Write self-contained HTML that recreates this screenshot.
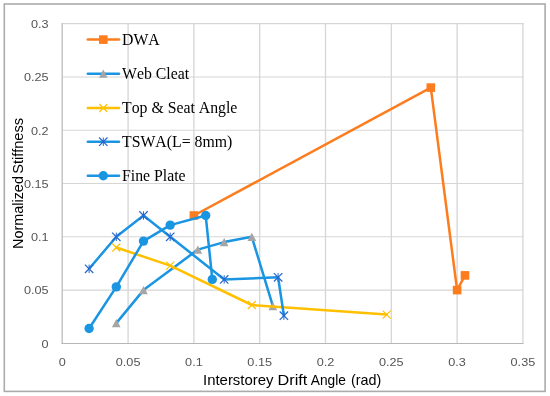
<!DOCTYPE html>
<html><head><meta charset="utf-8"><title>Chart</title>
<style>
html,body{margin:0;padding:0;background:#fff;}
body{width:550px;height:396px;overflow:hidden;}
svg{display:block;}
.ax{font-family:"Liberation Sans",sans-serif;font-size:11.8px;fill:#555;}
.ti{font-family:"Liberation Sans",sans-serif;font-size:14.2px;fill:#000;}
.lg{font-family:"Liberation Serif",serif;font-size:15.8px;fill:#000;font-kerning:none;}
</style></head><body>
<svg width="550" height="396" viewBox="0 0 550 396">
<rect x="0" y="0" width="550" height="396" fill="#fff"/>
<rect x="4.3" y="4.0" width="540.8" height="387.4" fill="#fff" stroke="#ababab" stroke-width="1.6"/>
<path d="M128.1 23.1V343.4M193.9 23.1V343.4M259.7 23.1V343.4M325.5 23.1V343.4M391.3 23.1V343.4M457.1 23.1V343.4M522.9 23.1V343.4" stroke="#d6d6d6" stroke-width="1.3" fill="none"/>
<path d="M62.3 290.1H523.5M62.3 236.8H523.5M62.3 183.5H523.5M62.3 130.2H523.5M62.3 76.9H523.5M62.3 23.6H523.5" stroke="#d6d6d6" stroke-width="1.05" fill="none"/>
<path d="M62.2 23.1V343.9" stroke="#bcbcbc" stroke-width="1.3" fill="none"/>
<path d="M61.6 343.4H523.5" stroke="#b6b6b6" stroke-width="1.05" fill="none"/>
<text class="ax" transform="translate(62.3 366) scale(1.075 1)" text-anchor="middle">0</text><text class="ax" transform="translate(128.1 366) scale(1.075 1)" text-anchor="middle">0.05</text><text class="ax" transform="translate(193.9 366) scale(1.075 1)" text-anchor="middle">0.1</text><text class="ax" transform="translate(259.7 366) scale(1.075 1)" text-anchor="middle">0.15</text><text class="ax" transform="translate(325.5 366) scale(1.075 1)" text-anchor="middle">0.2</text><text class="ax" transform="translate(391.3 366) scale(1.075 1)" text-anchor="middle">0.25</text><text class="ax" transform="translate(457.1 366) scale(1.075 1)" text-anchor="middle">0.3</text><text class="ax" transform="translate(522.9 366) scale(1.075 1)" text-anchor="middle">0.35</text>
<text class="ax" transform="translate(48.6 347.7) scale(1.075 1)" text-anchor="end">0</text><text class="ax" transform="translate(48.6 294.4) scale(1.075 1)" text-anchor="end">0.05</text><text class="ax" transform="translate(48.6 241.1) scale(1.075 1)" text-anchor="end">0.1</text><text class="ax" transform="translate(48.6 187.8) scale(1.075 1)" text-anchor="end">0.15</text><text class="ax" transform="translate(48.6 134.5) scale(1.075 1)" text-anchor="end">0.2</text><text class="ax" transform="translate(48.6 81.2) scale(1.075 1)" text-anchor="end">0.25</text><text class="ax" transform="translate(48.6 27.9) scale(1.075 1)" text-anchor="end">0.3</text>
<text class="ti" y="384.6"><tspan x="203.0" textLength="70.5" lengthAdjust="spacingAndGlyphs">Interstorey</tspan> <tspan x="277.5" textLength="29.8" lengthAdjust="spacingAndGlyphs">Drift</tspan> <tspan x="310.8" textLength="35.1" lengthAdjust="spacingAndGlyphs">Angle</tspan> <tspan x="350.9" textLength="30.3" lengthAdjust="spacingAndGlyphs">(rad)</tspan></text>
<text class="ti" transform="translate(22.7 0) rotate(-90)" y="0"><tspan x="-249.0" textLength="72.9" lengthAdjust="spacingAndGlyphs">Normalized</tspan> <tspan x="-173.7" textLength="55.8" lengthAdjust="spacingAndGlyphs">Stiffness</tspan></text>
<path d="M193.9 215.5L430.8 87.6L457.1 290.1L465.0 275.4" stroke="#FD7C1E" stroke-width="2.5" fill="none" stroke-linejoin="round" stroke-linecap="round"/>
<rect x="189.6" y="211.2" width="8.6" height="8.6" fill="#FD7C1E"/><rect x="426.5" y="83.3" width="8.6" height="8.6" fill="#FD7C1E"/><rect x="452.8" y="285.8" width="8.6" height="8.6" fill="#FD7C1E"/><rect x="460.7" y="271.1" width="8.6" height="8.6" fill="#FD7C1E"/>
<path d="M116.3 323.1L143.5 290.1L197.8 249.6L224.2 242.1L251.8 236.8L272.9 306.1" stroke="#1A95E2" stroke-width="2.5" fill="none" stroke-linejoin="round" stroke-linecap="round"/>
<path d="M116.3 319.0L120.6 327.2L111.9 327.2Z" fill="#A5A5A5"/><path d="M143.5 286.0L147.8 294.2L139.1 294.2Z" fill="#A5A5A5"/><path d="M197.8 245.5L202.2 253.7L193.5 253.7Z" fill="#A5A5A5"/><path d="M224.2 238.0L228.5 246.2L219.8 246.2Z" fill="#A5A5A5"/><path d="M251.8 232.7L256.2 240.9L247.5 240.9Z" fill="#A5A5A5"/><path d="M272.9 302.0L277.2 310.2L268.5 310.2Z" fill="#A5A5A5"/>
<path d="M116.3 247.5L170.2 265.6L251.8 305.0L386.7 314.6" stroke="#FFC000" stroke-width="2.5" fill="none" stroke-linejoin="round" stroke-linecap="round"/>
<path d="M112.3 243.5L120.3 251.5M112.3 251.5L120.3 243.5" stroke="#FFC000" stroke-width="1.2" fill="none"/><path d="M166.2 261.6L174.2 269.6M166.2 269.6L174.2 261.6" stroke="#FFC000" stroke-width="1.2" fill="none"/><path d="M247.8 301.0L255.8 309.0M247.8 309.0L255.8 301.0" stroke="#FFC000" stroke-width="1.2" fill="none"/><path d="M382.7 310.6L390.7 318.6M382.7 318.6L390.7 310.6" stroke="#FFC000" stroke-width="1.2" fill="none"/>
<path d="M89.1 268.8L116.3 236.8L143.5 215.5L170.2 236.8L224.2 279.4L278.1 277.3L283.9 315.7" stroke="#1A95E2" stroke-width="2.5" fill="none" stroke-linejoin="round" stroke-linecap="round"/>
<path d="M84.9 264.6L93.3 273.0M84.9 273.0L93.3 264.6" stroke="#2668D0" stroke-width="1.25" fill="none"/><path d="M89.1 264.6V273.0" stroke="#2668D0" stroke-width="1.0"/><path d="M112.1 232.6L120.5 241.0M112.1 241.0L120.5 232.6" stroke="#2668D0" stroke-width="1.25" fill="none"/><path d="M116.3 232.6V241.0" stroke="#2668D0" stroke-width="1.0"/><path d="M139.3 211.3L147.7 219.7M139.3 219.7L147.7 211.3" stroke="#2668D0" stroke-width="1.25" fill="none"/><path d="M143.5 211.3V219.7" stroke="#2668D0" stroke-width="1.0"/><path d="M166.0 232.6L174.4 241.0M166.0 241.0L174.4 232.6" stroke="#2668D0" stroke-width="1.25" fill="none"/><path d="M170.2 232.6V241.0" stroke="#2668D0" stroke-width="1.0"/><path d="M220.0 275.2L228.4 283.6M220.0 283.6L228.4 275.2" stroke="#2668D0" stroke-width="1.25" fill="none"/><path d="M224.2 275.2V283.6" stroke="#2668D0" stroke-width="1.0"/><path d="M273.9 273.1L282.3 281.5M273.9 281.5L282.3 273.1" stroke="#2668D0" stroke-width="1.25" fill="none"/><path d="M278.1 273.1V281.5" stroke="#2668D0" stroke-width="1.0"/><path d="M279.7 311.5L288.1 319.9M279.7 319.9L288.1 311.5" stroke="#2668D0" stroke-width="1.25" fill="none"/><path d="M283.9 311.5V319.9" stroke="#2668D0" stroke-width="1.0"/>
<path d="M89.1 328.5L116.3 286.9L143.5 241.1L170.2 225.1L205.7 215.5L212.3 279.4" stroke="#1A95E2" stroke-width="2.5" fill="none" stroke-linejoin="round" stroke-linecap="round"/>
<circle cx="89.1" cy="328.5" r="4.7" fill="#1A95E2"/><circle cx="116.3" cy="286.9" r="4.7" fill="#1A95E2"/><circle cx="143.5" cy="241.1" r="4.7" fill="#1A95E2"/><circle cx="170.2" cy="225.1" r="4.7" fill="#1A95E2"/><circle cx="205.7" cy="215.5" r="4.7" fill="#1A95E2"/><circle cx="212.3" cy="279.4" r="4.7" fill="#1A95E2"/>
<path d="M87.8 39.6H119" stroke="#FD7C1E" stroke-width="2.5" stroke-linecap="round"/><rect x="99.0" y="35.3" width="8.6" height="8.6" fill="#FD7C1E"/><text class="lg" x="122.0" y="44.7">DWA</text>
<path d="M87.8 73.65H119" stroke="#1A95E2" stroke-width="2.5" stroke-linecap="round"/><path d="M103.3 69.6L107.6 77.8L99.0 77.8Z" fill="#A5A5A5"/><text class="lg" x="122.0" y="78.8">Web Cleat</text>
<path d="M87.8 108.0H119" stroke="#FFC000" stroke-width="2.5" stroke-linecap="round"/><path d="M99.3 104.0L107.3 112.0M99.3 112.0L107.3 104.0" stroke="#FFC000" stroke-width="1.2" fill="none"/><text class="lg" x="122.0" y="113.1">Top &amp; Seat Angle</text>
<path d="M87.8 141.7H119" stroke="#1A95E2" stroke-width="2.5" stroke-linecap="round"/><path d="M99.1 137.5L107.5 145.9M99.1 145.9L107.5 137.5" stroke="#2668D0" stroke-width="1.25" fill="none"/><path d="M103.3 137.5V145.9" stroke="#2668D0" stroke-width="1.0"/><text class="lg" x="122.0" y="146.8">TSWA(L= 8mm)</text>
<path d="M87.8 175.85H119" stroke="#1A95E2" stroke-width="2.5" stroke-linecap="round"/><circle cx="103.3" cy="175.8" r="4.7" fill="#1A95E2"/><text class="lg" x="122.0" y="180.9">Fine Plate</text>
</svg>
</body></html>
